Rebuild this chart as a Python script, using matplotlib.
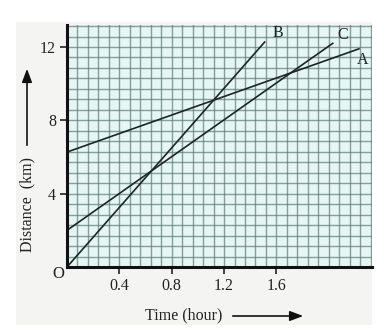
import numpy as np
import matplotlib.pyplot as plt
from matplotlib.patches import Rectangle

plt.rcParams['font.family'] = ['Liberation Serif', 'DejaVu Serif']

# lines (time in hours, distance in km)
names = ['A', 'B', 'C']
t_start = [0.0, 0.0, 0.0]
t_end = [2.23, 1.51, 2.03]
d_start = [6.27, 0.0, 2.0]
d_end = [11.9, 12.27, 12.2]
label_t = [2.26, 1.615, 2.11]
label_d = [11.3, 12.77, 12.66]

x_ticks = [0.4, 0.8, 1.2, 1.6]
y_ticks = [4, 8, 12]

fig = plt.figure(figsize=(3.9, 3.3), dpi=100)
fig.patches.append(Rectangle((0.041, 0.015), 0.913, 0.918, transform=fig.transFigure,
                             facecolor='#f4f4f2', edgecolor='none', zorder=-1))
ax = fig.add_axes([0.1718, 0.1909, 0.782, 0.7333])
ax.set_facecolor('#e5f6f4')
ax.set_xlim(0, 2.33)
ax.set_ylim(0, 13.2)

# square grid
for gx in np.arange(0.08, 2.33, 0.08):
    ax.axvline(gx, color='#5f7a76', lw=1.0, alpha=0.7, zorder=1)
for gy in np.arange(4 / 7, 13.2, 4 / 7):
    ax.axhline(gy, color='#5f7a76', lw=1.0, alpha=0.7, zorder=1)

for i in range(len(names)):
    ax.plot([t_start[i], t_end[i]], [d_start[i], d_end[i]], color='#1c2624', lw=1.2, zorder=3)
    ax.text(label_t[i], label_d[i], names[i], fontsize=11.5, ha='center', va='center',
            color='#222222', zorder=4)

ax.set_xticks(x_ticks)
ax.set_xticklabels([str(v) for v in x_ticks])
ax.set_yticks(y_ticks)
ax.set_yticklabels([str(v) for v in y_ticks])
ax.tick_params(axis='both', labelsize=11.5, length=5, width=1.2, colors='#222222', pad=3)

for s in ['top', 'right']:
    ax.spines[s].set_visible(False)
for s in ['left', 'bottom']:
    ax.spines[s].set_linewidth(2.2)
    ax.spines[s].set_color('#111111')
    ax.spines[s].set_zorder(5)

ax.text(-0.07, -0.38, 'O', fontsize=12, ha='center', va='center', color='#222222',
        clip_on=False)

# axis titles with arrows
fig.text(27 / 390, 1 - 204 / 330, 'Distance  (km)', rotation=90, fontsize=11.5,
         ha='center', va='center', color='#222222')
fig.add_artist(plt.Annotation('', xy=(27 / 390, 1 - 66 / 330), xytext=(27 / 390, 1 - 148 / 330),
                              xycoords='figure fraction',
                              arrowprops=dict(arrowstyle='-|>,head_length=0.8,head_width=0.3',
                                              color='#111111', lw=1.2)))
fig.text(184 / 390, 1 - 315 / 330, 'Time (hour)', fontsize=11.5,
         ha='center', va='center', color='#222222')
fig.add_artist(plt.Annotation('', xy=(306 / 390, 1 - 316 / 330), xytext=(230 / 390, 1 - 316 / 330),
                              xycoords='figure fraction',
                              arrowprops=dict(arrowstyle='-|>,head_length=0.8,head_width=0.3',
                                              color='#111111', lw=1.2)))

plt.savefig('out.png', dpi=100, facecolor='white')
